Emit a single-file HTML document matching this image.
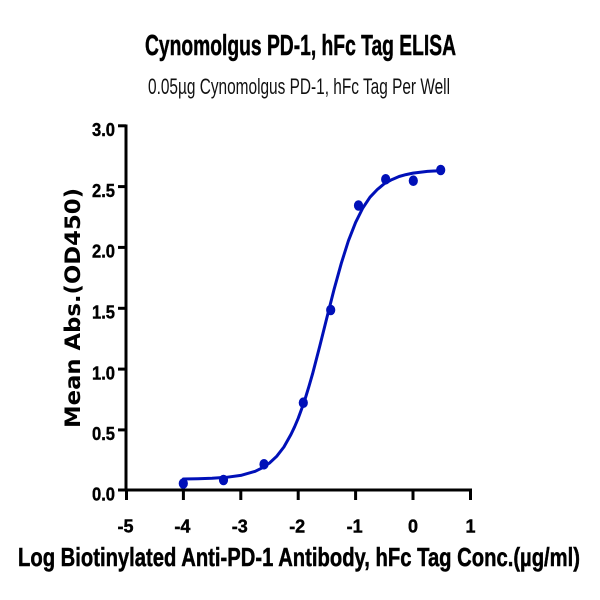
<!DOCTYPE html>
<html>
<head>
<meta charset="utf-8">
<style>
  html,body{margin:0;padding:0;background:#fff;}
  svg{display:block;}
</style>
</head>
<body>
<svg width="600" height="600" viewBox="0 0 600 600" xmlns="http://www.w3.org/2000/svg">
  <rect width="600" height="600" fill="#fff"/>
  <!-- Titles -->
  <text x="300.5" y="55" text-anchor="middle" font-family="Liberation Sans, sans-serif" font-weight="bold" font-size="29" textLength="311" lengthAdjust="spacingAndGlyphs" fill="#000" stroke="#000" stroke-width="0.5">Cynomolgus PD-1, hFc Tag ELISA</text>
  <text x="299" y="94" text-anchor="middle" font-family="Liberation Sans, sans-serif" font-size="22" textLength="302" lengthAdjust="spacingAndGlyphs" fill="#111">0.05µg Cynomolgus PD-1, hFc Tag Per Well</text>

  <!-- Axes -->
  <g stroke="#000" stroke-width="3" fill="none">
    <line x1="126" y1="124.5" x2="126" y2="491.5"/>
    <line x1="124.5" y1="490" x2="472" y2="490"/>
    <!-- y ticks -->
    <line x1="118" y1="125.8" x2="126" y2="125.8"/>
    <line x1="118" y1="186.6" x2="126" y2="186.6"/>
    <line x1="118" y1="247.4" x2="126" y2="247.4"/>
    <line x1="118" y1="308.3" x2="126" y2="308.3"/>
    <line x1="118" y1="369.1" x2="126" y2="369.1"/>
    <line x1="118" y1="429.9" x2="126" y2="429.9"/>
    <line x1="118" y1="490" x2="126" y2="490"/>
    <!-- x ticks -->
    <line x1="126.5" y1="490" x2="126.5" y2="500"/>
    <line x1="183.4" y1="490" x2="183.4" y2="500"/>
    <line x1="240.8" y1="490" x2="240.8" y2="500"/>
    <line x1="298.2" y1="490" x2="298.2" y2="500"/>
    <line x1="355.6" y1="490" x2="355.6" y2="500"/>
    <line x1="413" y1="490" x2="413" y2="500"/>
    <line x1="470.5" y1="490" x2="470.5" y2="500"/>
  </g>

  <!-- Y tick labels -->
  <g font-family="Liberation Sans, sans-serif" font-weight="bold" font-size="18" fill="#000" stroke="#000" stroke-width="0.4" text-anchor="end">
    <text x="115" y="136" textLength="23" lengthAdjust="spacingAndGlyphs">3.0</text>
    <text x="115" y="196.8" textLength="23" lengthAdjust="spacingAndGlyphs">2.5</text>
    <text x="115" y="257.6" textLength="23" lengthAdjust="spacingAndGlyphs">2.0</text>
    <text x="115" y="318.5" textLength="23" lengthAdjust="spacingAndGlyphs">1.5</text>
    <text x="115" y="379.3" textLength="23" lengthAdjust="spacingAndGlyphs">1.0</text>
    <text x="115" y="440.1" textLength="23" lengthAdjust="spacingAndGlyphs">0.5</text>
    <text x="115" y="500.5" textLength="23" lengthAdjust="spacingAndGlyphs">0.0</text>
  </g>

  <!-- X tick labels -->
  <g font-family="Liberation Sans, sans-serif" font-weight="bold" font-size="18" fill="#000" stroke="#000" stroke-width="0.4" text-anchor="middle">
    <text x="125.5" y="532.5">-5</text>
    <text x="182.4" y="532.5">-4</text>
    <text x="239.8" y="532.5">-3</text>
    <text x="297.2" y="532.5">-2</text>
    <text x="354.6" y="532.5">-1</text>
    <text x="413" y="532.5">0</text>
    <text x="470.5" y="532.5">1</text>
  </g>

  <!-- Axis titles -->
  <text x="299" y="566" text-anchor="middle" font-family="Liberation Sans, sans-serif" font-weight="bold" font-size="26" textLength="562" lengthAdjust="spacingAndGlyphs" fill="#000" stroke="#000" stroke-width="0.5">Log Biotinylated Anti-PD-1 Antibody, hFc Tag Conc.(µg/ml)</text>
  <text transform="translate(80,308) rotate(-90)" x="0" y="0" text-anchor="middle" font-family="DejaVu Sans, sans-serif" font-weight="bold" font-size="21" textLength="240" lengthAdjust="spacingAndGlyphs" fill="#000">Mean Abs.(OD450)</text>

  <!-- Fitted curve -->
  <polyline fill="none" stroke="#0010B8" stroke-width="3" stroke-linejoin="round" stroke-linecap="round"
    points="183.4,479.0 197.8,478.7 212.1,478.3 226.5,477.3 240.8,475.4 255.2,471.3 262.3,467.8 269.5,463.0 276.7,456.3 283.9,447.0 291.0,434.4 294.6,426.8 298.2,418.3 301.8,408.5 305.4,398.0 309.0,386.2 312.6,373.7 319.7,346.4 326.9,317.6 334.1,289.3 341.3,263.3 348.4,240.8 355.6,222.4 362.8,208.0 370.0,197.2 377.3,189.5 384.7,183.4 391.9,179.6 399.1,176.5 406.0,174.6 413.0,173.1 420.2,172.2 427.4,171.4 434.0,171.0 440.6,170.7"/>

  <!-- Data points -->
  <g fill="#0010B8">
    <ellipse cx="183.3" cy="483.5" rx="4.6" ry="5.3"/>
    <ellipse cx="223.5" cy="480" rx="4.6" ry="5.3"/>
    <ellipse cx="264" cy="464.3" rx="4.6" ry="5.3"/>
    <ellipse cx="303.3" cy="402.7" rx="4.6" ry="5.3"/>
    <ellipse cx="330.7" cy="310" rx="4.6" ry="5.3"/>
    <ellipse cx="358.5" cy="205.5" rx="4.6" ry="5.3"/>
    <ellipse cx="385.7" cy="179.3" rx="4.6" ry="5.3"/>
    <ellipse cx="413.3" cy="180.7" rx="4.6" ry="5.3"/>
    <ellipse cx="440.7" cy="170" rx="4.6" ry="5.3"/>
  </g>
</svg>
</body>
</html>
